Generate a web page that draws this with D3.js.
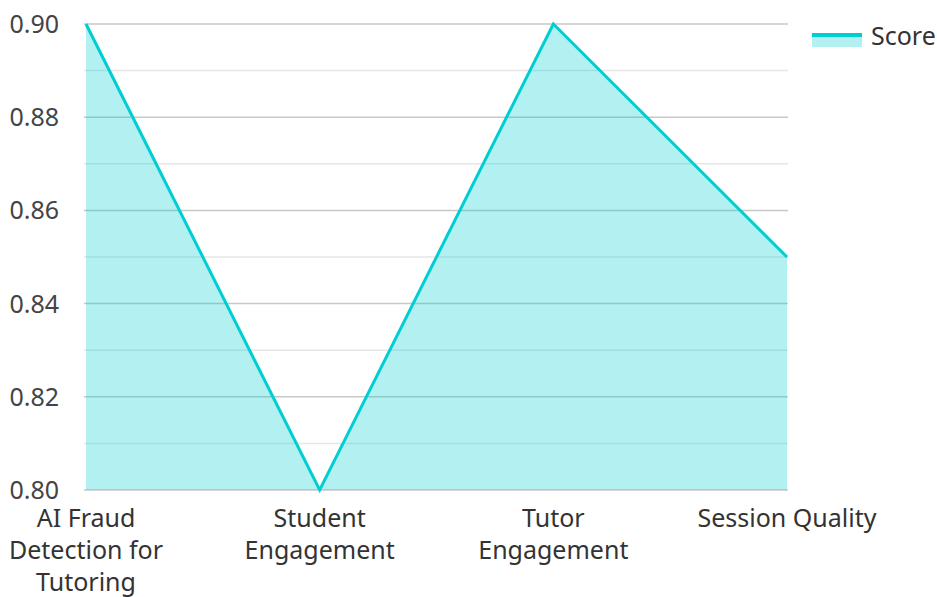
<!DOCTYPE html>
<html><head><meta charset="utf-8">
<script src="https://cdn.jsdelivr.net/npm/d3@7"></script>
<style>body{margin:0;background:#fff;font-family:"Noto Sans",sans-serif;}</style>
</head><body><svg id="c" width="937" height="597"></svg>
<script>
const categories = [["AI Fraud","Detection for","Tutoring"],["Student","Engagement"],["Tutor","Engagement"],["Session Quality"]];
const scores = [0.90, 0.80, 0.90, 0.85];
const yTicks = [0.80,0.82,0.84,0.86,0.88,0.90];
const yMinor = [0.81,0.83,0.85,0.87,0.89];
const seriesName = "Score";

const svg = d3.select("#c");
const x = d3.scalePoint().domain(d3.range(categories.length)).range([86,787]);
const y = d3.scaleLinear().domain([0.80,0.90]).range([490,24]);
const line = "#00CED1", fill = "rgba(0,206,209,0.3)";
const fs = 25;

svg.append("g").selectAll("line").data(yMinor).join("line")
  .attr("x1",84).attr("x2",788).attr("y1",d=>y(d)).attr("y2",d=>y(d))
  .attr("stroke","#e6e6e6").attr("stroke-width",1.5);
svg.append("g").selectAll("line").data(yTicks).join("line")
  .attr("x1",84).attr("x2",788).attr("y1",d=>y(d)).attr("y2",d=>y(d))
  .attr("stroke","#c8c8c8").attr("stroke-width",1.5);

const idx = d3.range(scores.length);
svg.append("path").datum(idx)
  .attr("d", d3.area().x(i=>x(i)).y0(y(0.80)).y1(i=>y(scores[i])))
  .attr("fill", fill);
svg.append("path").datum(idx)
  .attr("d", d3.line().x(i=>x(i)).y(i=>y(scores[i])))
  .attr("fill","none").attr("stroke",line).attr("stroke-width",3);

svg.append("g").selectAll("text").data(yTicks).join("text")
  .attr("x",59).attr("y",d=>y(d)).attr("dy","0.36em").attr("text-anchor","end")
  .attr("font-size",fs).attr("fill","#444").text(d=>d.toFixed(2));

const xl = svg.append("g").selectAll("text").data(categories).join("text")
  .attr("text-anchor","middle").attr("font-size",fs).attr("fill","#333")
  .attr("transform",(d,i)=>`translate(${x(i)},0)`);
xl.selectAll("tspan").data(d=>d).join("tspan")
  .attr("x",0).attr("y",(d,j)=>527+j*32).text(d=>d);

const lg = svg.append("g");
lg.append("rect").attr("x",812).attr("y",33).attr("width",50).attr("height",14).attr("fill",fill);
lg.append("line").attr("x1",812).attr("x2",862).attr("y1",35).attr("y2",35).attr("stroke",line).attr("stroke-width",4);
lg.append("text").attr("x",871).attr("y",36).attr("dy","0.36em").attr("font-size",fs).attr("fill","#333").text(seriesName);
</script></body></html>
